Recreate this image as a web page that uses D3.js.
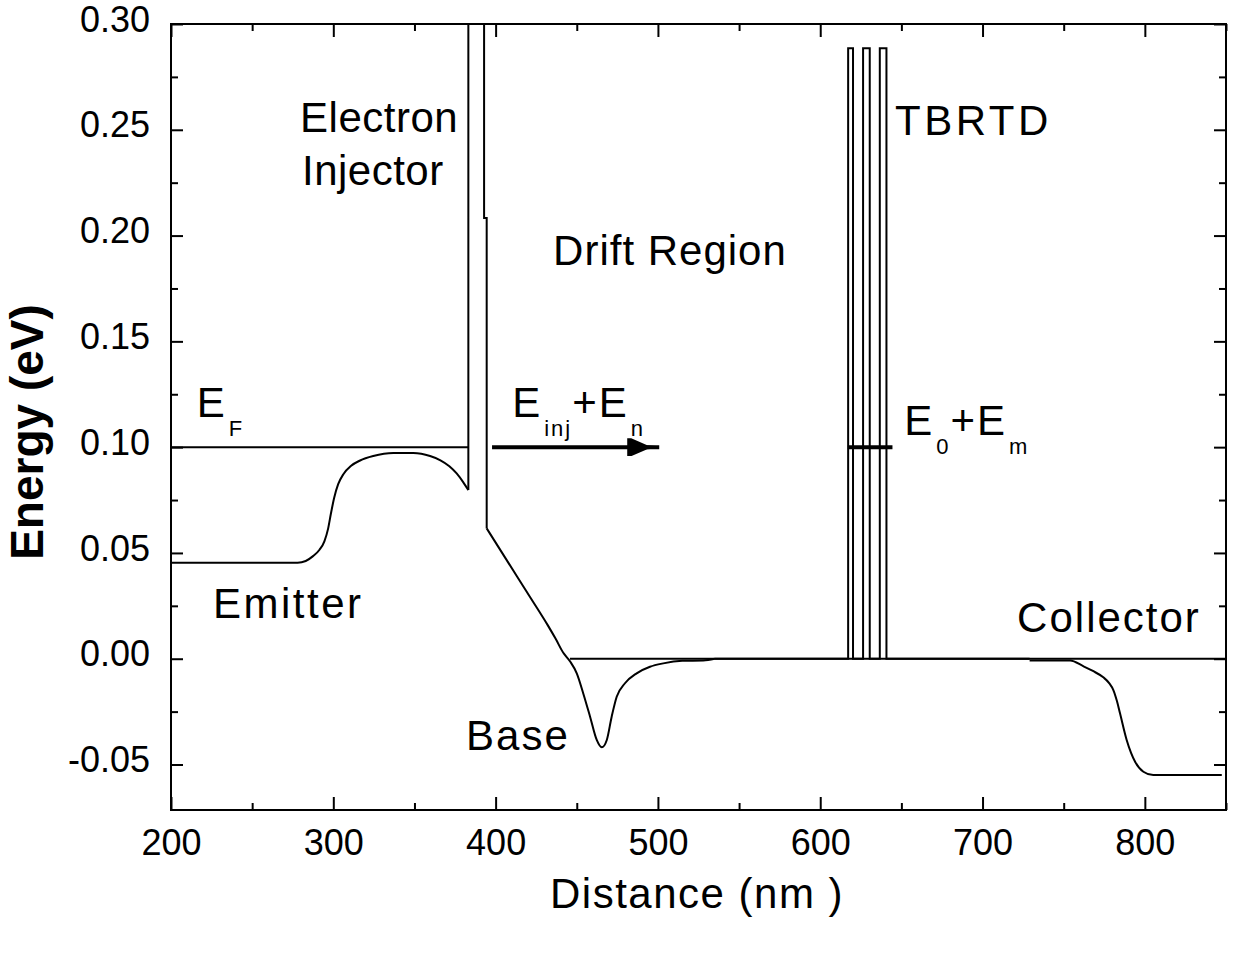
<!DOCTYPE html>
<html>
<head>
<meta charset="utf-8">
<script src="https://cdn.jsdelivr.net/npm/d3@7"></script>
<style>
  body { margin: 0; background: #fff; }
  text { font-family: "Liberation Sans", Arial, sans-serif; fill: #000; }
  .band { fill: none; stroke: #000; stroke-width: 2; }
  .ticks line { stroke: #000; stroke-width: 2; }
  .ticks path.domain { display: none; }
</style>
</head>
<body>
<svg id="chart" width="1258" height="954"></svg>
<script>
// axis ticks
var xTicks = [200, 300, 400, 500, 600, 700, 800];
var xMinor = [250, 350, 450, 550, 650, 750, 850];
var yTicks = [-0.05, 0.00, 0.05, 0.10, 0.15, 0.20, 0.25, 0.30];
var yMinor = [-0.025, 0.025, 0.075, 0.125, 0.175, 0.225, 0.275];

// conduction band profile, [distance nm, energy eV]
var emitterBand = [
  [200, 0.0454], [278, 0.0454], [283, 0.0462], [287.5, 0.0485], [291.5, 0.0515],
  [294.5, 0.0555], [296.8, 0.0615], [298.5, 0.0685], [300.5, 0.0760], [303, 0.0825],
  [306.2, 0.0872], [311, 0.0912], [316.5, 0.0937], [324.6, 0.0958], [337, 0.0972],
  [349.3, 0.0972], [359.6, 0.0958], [366, 0.0938], [371.5, 0.0910], [376, 0.0876],
  [380, 0.0835], [383.2, 0.0797]
];
var injectorBarrier = [
  [383.2, 0.0797], [383.2, 0.40], [392.9, 0.40], [392.9, 0.2083],
  [394.5, 0.2083], [394.5, 0.0616]
];
var driftBand = [
  [394.5, 0.0616], [408, 0.0452], [421.2, 0.0292], [432, 0.0160], [437, 0.0094],
  [441.7, 0.0028], [445.8, -0.0012], [450, -0.0069], [454, -0.0164], [458.2, -0.0274],
  [462.3, -0.0384], [465.4, -0.0419], [468.5, -0.0384], [471.5, -0.0274], [474.6, -0.018],
  [479.7, -0.0116], [486.9, -0.0069], [495.1, -0.0038], [503.3, -0.0022], [515, -0.0010],
  [528, -0.0008], [535, 0]
];
var rtdBand = [
  [535, 0], [617.2, 0], [617.2, 0.2885], [620.2, 0.2885], [620.2, 0],
  [626.4, 0], [626.4, 0.2885], [630.5, 0.2885], [630.5, 0],
  [636.7, 0], [636.7, 0.2885], [640.8, 0.2885], [640.8, 0], [729, 0]
];
var collectorBand = [
  [729, -0.0008], [754, -0.0008], [762, -0.0035], [768, -0.0058], [774.4, -0.0088],
  [778, -0.0115], [780.6, -0.0148], [782.8, -0.0200], [784.7, -0.0258], [788.8, -0.0384],
  [791.5, -0.0445], [794, -0.0487], [799.1, -0.0534], [805.2, -0.055], [847.4, -0.055]
];

// reference levels
var fermiLevel = [[200, 0.10], [383.2, 0.10]];
var zeroLevel = [[445.8, 0], [850, 0]];
var injectArrow = [[397.8, 0.10], [501.3, 0.10]];
var resonantLevel = [[617, 0.10], [644.5, 0.10]];

var W = 1258, H = 954;
var margin = { left: 171, right: 32, top: 24, bottom: 144 };

var svg = d3.select("#chart");

var x = d3.scaleLinear().domain([200, 850]).range([margin.left, W - margin.right]);
var y = d3.scaleLinear().domain([-0.0715, 0.30]).range([H - margin.bottom, margin.top]);

var line = d3.line()
  .x(function (d) { return x(d[0]); })
  .y(function (d) { return y(d[1]); });
var smooth = d3.line()
  .x(function (d) { return x(d[0]); })
  .y(function (d) { return y(d[1]); })
  .curve(d3.curveMonotoneX);

svg.append("defs").append("clipPath").attr("id", "plotClip")
  .append("rect")
  .attr("x", x(200)).attr("y", y(0.30))
  .attr("width", x(850) - x(200)).attr("height", y(-0.0715) - y(0.30));

svg.select("defs").append("marker")
  .attr("id", "arrowHead")
  .attr("markerUnits", "userSpaceOnUse")
  .attr("viewBox", "0 0 32 18")
  .attr("refX", 32).attr("refY", 9)
  .attr("markerWidth", 32).attr("markerHeight", 18)
  .attr("orient", "auto")
  .append("path")
  .attr("d", "M0,0 L4,0 L20,7 L32,8 L32,10 L20,11 L4,18 L0,18 Z")
  .attr("fill", "#000");

var plot = svg.append("g").attr("clip-path", "url(#plotClip)");

plot.append("path").attr("class", "band").attr("d", smooth(emitterBand));
plot.append("path").attr("class", "band").attr("d", line(injectorBarrier));
plot.append("path").attr("class", "band").attr("d", smooth(driftBand));
plot.append("path").attr("class", "band").attr("d", line(rtdBand));
plot.append("path").attr("class", "band").attr("d", smooth(collectorBand));

plot.append("path").attr("class", "band").attr("d", line(fermiLevel));
plot.append("path").attr("class", "band").attr("d", line(zeroLevel));
plot.append("path").attr("class", "band").style("stroke-width", 4)
  .attr("d", line(resonantLevel));
plot.append("path").attr("class", "band").style("stroke-width", 4)
  .attr("marker-end", "url(#arrowHead)")
  .attr("d", line([injectArrow[0], [injectArrow[1][0] - 0.5, injectArrow[1][1]]]));

// axes, ticks pointing inward on all four sides
var fx = 36;
var fmt = function (d) { return d3.format(".2f")(d).replace("\u2212", "-"); };

svg.append("g").attr("class", "ticks")
  .attr("transform", "translate(0," + y(-0.0715) + ")")
  .call(d3.axisBottom(x).tickValues(xTicks).tickSizeInner(-13).tickSizeOuter(0).tickPadding(19))
  .call(function (g) { g.selectAll("text").style("font-size", fx + "px"); });
svg.append("g").attr("class", "ticks")
  .attr("transform", "translate(0," + y(-0.0715) + ")")
  .call(d3.axisBottom(x).tickValues(xMinor).tickSizeInner(-7).tickSizeOuter(0).tickFormat(""));
svg.append("g").attr("class", "ticks")
  .attr("transform", "translate(0," + y(0.30) + ")")
  .call(d3.axisTop(x).tickValues(xTicks).tickSizeInner(-13).tickSizeOuter(0).tickFormat(""));
svg.append("g").attr("class", "ticks")
  .attr("transform", "translate(0," + y(0.30) + ")")
  .call(d3.axisTop(x).tickValues(xMinor).tickSizeInner(-7).tickSizeOuter(0).tickFormat(""));

svg.append("g").attr("class", "ticks")
  .attr("transform", "translate(" + x(200) + ",0)")
  .call(d3.axisLeft(y).tickValues(yTicks).tickSizeInner(-12).tickSizeOuter(0).tickPadding(21)
    .tickFormat(fmt))
  .call(function (g) {
    g.selectAll("text").style("font-size", fx + "px").attr("dy", "0.2em");
  });
svg.append("g").attr("class", "ticks")
  .attr("transform", "translate(" + x(200) + ",0)")
  .call(d3.axisLeft(y).tickValues(yMinor).tickSizeInner(-7).tickSizeOuter(0).tickFormat(""));
svg.append("g").attr("class", "ticks")
  .attr("transform", "translate(" + x(850) + ",0)")
  .call(d3.axisRight(y).tickValues(yTicks).tickSizeInner(-12).tickSizeOuter(0).tickFormat(""));
svg.append("g").attr("class", "ticks")
  .attr("transform", "translate(" + x(850) + ",0)")
  .call(d3.axisRight(y).tickValues(yMinor).tickSizeInner(-7).tickSizeOuter(0).tickFormat(""));

svg.append("rect")
  .attr("x", x(200)).attr("y", y(0.30))
  .attr("width", x(850) - x(200)).attr("height", y(-0.0715) - y(0.30))
  .attr("fill", "none").attr("stroke", "#000").attr("stroke-width", 2);

// axis titles
svg.append("text")
  .attr("x", 697).attr("y", 908)
  .attr("text-anchor", "middle")
  .style("font-size", "42px").style("letter-spacing", "1.5px")
  .text("Distance (nm )");

svg.append("text")
  .attr("transform", "translate(43," + 432 + ") rotate(-90)")
  .attr("text-anchor", "middle")
  .style("font-size", "46px").style("font-weight", "bold")
  .text("Energy (eV)");

// region labels
var labels = [
  { text: "Electron", at: [279.5, 0.2489], sp: 0.5 },
  { text: "Injector", at: [280.7, 0.2239], sp: 0.5 },
  { text: "Drift Region", at: [435.4, 0.1862], sp: 1 },
  { text: "TBRTD", at: [646.1, 0.2475], sp: 3.5 },
  { text: "Emitter", at: [225.9, 0.0192], sp: 2.5 },
  { text: "Base", at: [381.8, -0.0431], sp: 2 },
  { text: "Collector", at: [721.3, 0.0128], sp: 2 }
];
svg.selectAll("text.region")
  .data(labels)
  .enter()
  .append("text")
  .attr("class", "region")
  .attr("x", function (d) { return x(d.at[0]); })
  .attr("y", function (d) { return y(d.at[1]); })
  .style("font-size", "42px")
  .style("letter-spacing", function (d) { return d.sp + "px"; })
  .text(function (d) { return d.text; });

// energy labels with subscripts
var energyLabels = [
  { parts: [["E", ""], ["F", "sub"]], at: [215.8, 0.1142] },
  { parts: [["E", ""], ["inj", "sub"], ["+E", ""], ["n", "sub"]], at: [410.2, 0.1142] },
  { parts: [["E", ""], ["0", "sub"], ["+E", ""], ["m", "sub"]], at: [651.8, 0.1057] }
];
energyLabels.forEach(function (lab) {
  var t = svg.append("text")
    .attr("x", x(lab.at[0])).attr("y", y(lab.at[1]))
    .style("font-size", "42px");
  var shift = 0;
  lab.parts.forEach(function (p) {
    var span = t.append("tspan").text(p[0]);
    if (p[1] === "sub") {
      span.attr("dy", 19 - shift).style("font-size", "22px").style("letter-spacing", "2px")
        .attr("dx", 2);
      shift = 19;
    } else {
      span.attr("dy", -shift).style("letter-spacing", "2px");
      shift = 0;
    }
  });
});
</script>
</body>
</html>
